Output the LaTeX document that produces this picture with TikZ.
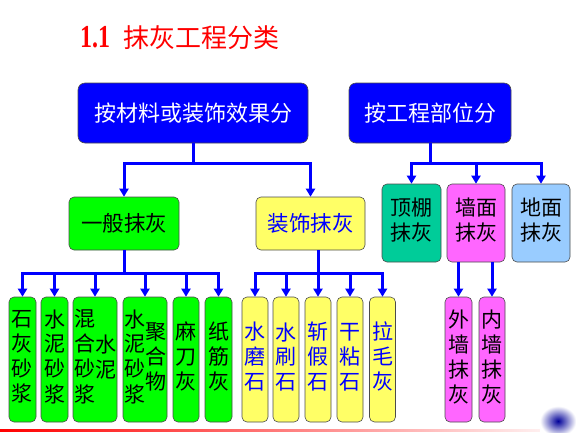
\documentclass[tikz,border=0pt]{standalone}
\usepackage{fontspec}
\setmainfont{Noto Sans CJK SC}
\newfontfamily\numfont[FakeStretch=0.75]{Liberation Serif}
\usetikzlibrary{arrows.meta}
\definecolor{plblue}{RGB}{0,0,255}
\definecolor{plgreen}{RGB}{0,255,0}
\definecolor{plyellow}{RGB}{255,255,102}
\definecolor{plteal}{RGB}{0,204,153}
\definecolor{plpink}{RGB}{255,102,255}
\definecolor{plsky}{RGB}{153,204,255}
\definecolor{plred}{RGB}{255,0,0}
\newcommand{\vcol}[1]{\begin{tabular}[c]{@{}c@{}}#1\end{tabular}}

\begin{document}
\begin{tikzpicture}[x=1pt,y=-1pt,
    box/.style={draw=gray!60!black,line width=0.6pt,rounded corners=5pt,inner sep=0pt,font=\fontsize{21pt}{24.5pt}\selectfont},
    head/.style={box,fill=plblue,text=white,minimum height=60pt,rounded corners=7pt,font=\fontsize{22pt}{26pt}\selectfont},
    tall/.style={box,minimum height=125pt,minimum width=#1},
    arr/.style={plblue,line width=3pt,-{Triangle[width=9pt,length=8pt]}}]
        \useasboundingbox (0,0) rectangle (576,432);
        % title
        \node[anchor=west,text=plred,inner sep=0pt] (title) at (80,38) {{\numfont\bfseries\fontsize{32pt}{32pt}\selectfont 1.1}\hspace{13pt}{\fontsize{26pt}{26pt}\selectfont 抹灰工程分类}};
        % two ways of sorting
        \node[head,minimum width=230pt] (bymat) at (193,113) {按材料或装饰效果分};
        \node[head,minimum width=162pt] (bypart) at (430,113) {按工程部位分};
        % by material
        \node[box,fill=plgreen,minimum width=110pt,minimum height=53pt,font=\fontsize{21.5pt}{24pt}\selectfont] (yb) at (124,223.5) {一般抹灰};
        \node[box,fill=plyellow,text=plblue,minimum width=109pt,minimum height=53pt,font=\fontsize{21.5pt}{24pt}\selectfont] (zs) at (310.5,223.5) {装饰抹灰};
        \node[tall=27pt,fill=plgreen] (g1) at (22.5,359.5) {\vcol{石\\灰\\砂\\浆}};
        \node[tall=27pt,fill=plgreen] (g2) at (54.5,359.5) {\vcol{水\\泥\\砂\\浆}};
        \node[tall=44pt,fill=plgreen] (g3) at (95,359.5) {\vcol{混\\合\\砂\\浆}\vcol{水\\泥}};
        \node[tall=44pt,fill=plgreen] (g4) at (145,359.5) {\vcol{水\\泥\\砂\\浆}\vcol{聚\\合\\物}};
        \node[tall=26pt,fill=plgreen] (g5) at (186,359.5) {\vcol{麻\\刀\\灰}};
        \node[tall=27pt,fill=plgreen] (g6) at (218.5,359.5) {\vcol{纸\\筋\\灰}};
        \node[tall=26pt,fill=plyellow,text=plblue] (z1) at (255,359.5) {\vcol{水\\磨\\石}};
        \node[tall=26pt,fill=plyellow,text=plblue] (z2) at (286,359.5) {\vcol{水\\刷\\石}};
        \node[tall=26pt,fill=plyellow,text=plblue] (z3) at (318,359.5) {\vcol{斩\\假\\石}};
        \node[tall=26pt,fill=plyellow,text=plblue] (z4) at (350,359.5) {\vcol{干\\粘\\石}};
        \node[tall=26pt,fill=plyellow,text=plblue] (z5) at (382.5,359.5) {\vcol{拉\\毛\\灰}};
        % by part
        \node[box,fill=plteal,minimum width=59pt,minimum height=78pt] (dp) at (411.5,223) {\vcol{顶棚\\抹灰}};
        \node[box,fill=plpink,minimum width=58pt,minimum height=78pt] (qm) at (476,223) {\vcol{墙面\\抹灰}};
        \node[box,fill=plsky,minimum width=58pt,minimum height=78pt] (dm) at (541,223) {\vcol{地面\\抹灰}};
        \node[tall=27pt,fill=plpink] (ww) at (458.5,359.5) {\vcol{外\\墙\\抹\\灰}};
        \node[tall=26pt,fill=plpink] (nw) at (492,359.5) {\vcol{内\\墙\\抹\\灰}};
        % connectors
        \draw[arr] (bymat.south) -- ++(0,20) -| (yb.north);
        \draw[arr] (bymat.south) -- ++(0,20) -| (zs.north);
        \foreach \n in {g1,g2,g3,g4,g5,g6} \draw[arr] (yb.south) -- ++(0,23) -| (\n.north);
        \foreach \n in {z1,z2,z3,z4,z5} \draw[arr] (z3.north |- zs.south) -- ++(0,23) -| (\n.north);
        \foreach \n in {dp,qm,dm} \draw[arr] (bypart.south) -- ++(0,20) -| (\n.north);
        \draw[arr] (qm.south -| ww.north) -- (ww.north);
        \draw[arr] (qm.south -| nw.north) -- (nw.north);
        % page decoration
        \shade[left color=plred,right color=white] (0,429.5) rectangle (576,431.5);
        \shade[inner color=plblue!60!black,outer color=white] (540,406) rectangle (576,436);
      \end{tikzpicture}
\end{document}
